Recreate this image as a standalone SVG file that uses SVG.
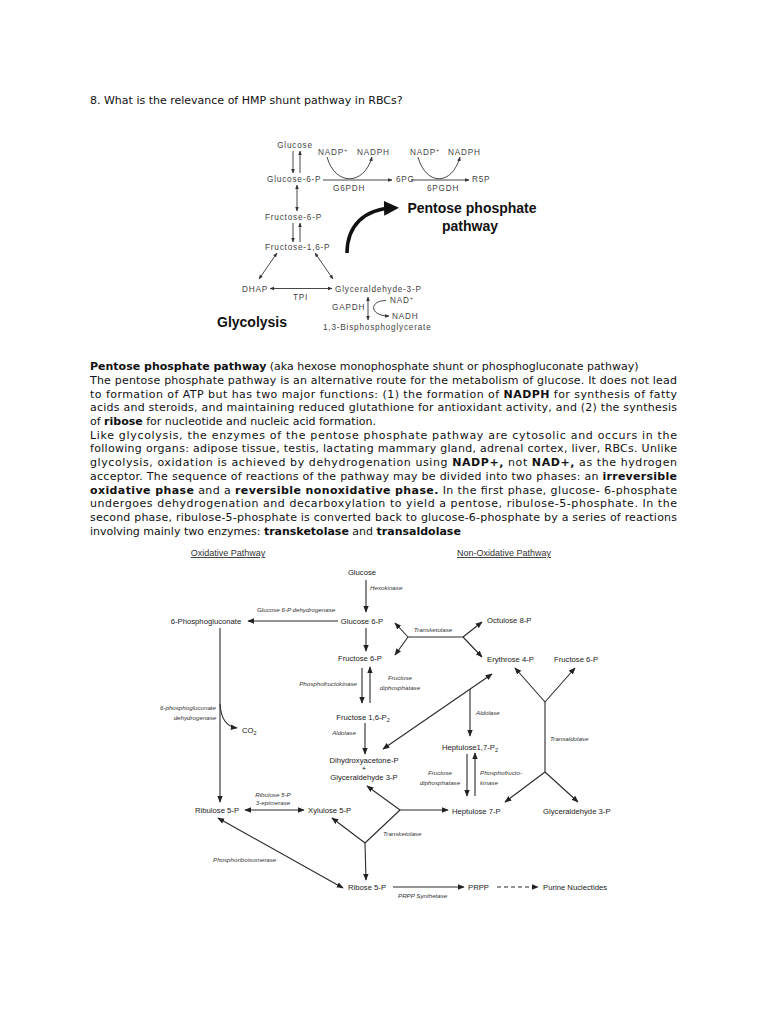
<svg xmlns="http://www.w3.org/2000/svg" width="768" height="1024" viewBox="0 0 768 1024">
<defs>
<style>
.p{font-family:"DejaVu Sans",sans-serif;font-size:11px;fill:#111}
.b{font-weight:bold}
.t{font-family:"Liberation Sans",Arial,sans-serif;font-size:8.2px;letter-spacing:0.8px;fill:#444}
.n{font-family:"Liberation Sans",Arial,sans-serif;font-size:7.7px;fill:#222}
.e{font-family:"Liberation Sans",Arial,sans-serif;font-size:6.2px;font-style:italic;fill:#333}
.h{font-family:"Liberation Sans",Arial,sans-serif;font-size:9px;fill:#333;text-decoration:underline}
.c{text-anchor:middle}
.l1{fill:none;stroke:#333;stroke-width:0.9}
.l2{fill:none;stroke:#2a2a2a;stroke-width:1.1}
</style>
<marker id="as" viewBox="0 0 10 10" refX="9" refY="5" markerWidth="4.5" markerHeight="4.5" markerUnits="userSpaceOnUse" orient="auto-start-reverse"><path d="M0,1 L10,5 L0,9 z" fill="#333"/></marker>
<marker id="ab" viewBox="0 0 10 10" refX="9" refY="5" markerWidth="7" markerHeight="7" markerUnits="userSpaceOnUse" orient="auto-start-reverse"><path d="M0,1 L10,5 L0,9 z" fill="#222"/></marker>
<marker id="ax" viewBox="0 0 10 10" refX="6" refY="5" markerWidth="15" markerHeight="15" markerUnits="userSpaceOnUse" orient="auto"><path d="M0,0 L10,5 L0,10 z" fill="#111"/></marker>
</defs>
<rect width="768" height="1024" fill="#fff"/>

<text class="p" x="90" y="104">8. What is the relevance of HMP shunt pathway in RBCs?</text>

<g id="glycolysis-figure">
<g id="top-labels">
<text class="t c" x="295" y="148">Glucose</text>
<text class="t" x="318" y="155">NADP<tspan font-size="5.5" dy="-3">+</tspan></text>
<text class="t" x="357" y="155">NADPH</text>
<text class="t" x="410" y="155">NADP<tspan font-size="5.5" dy="-3">+</tspan></text>
<text class="t" x="448" y="155">NADPH</text>
<text class="t" x="267" y="182">Glucose-6-P</text>
<text class="t" x="333" y="191">G6PDH</text>
<text class="t" x="396" y="182">6PG</text>
<text class="t" x="427" y="191">6PGDH</text>
<text class="t" x="472" y="182">R5P</text>
<text class="t" x="265" y="220">Fructose-6-P</text>
<text class="t" x="265" y="250">Fructose-1,6-P</text>
<text class="t" x="242" y="292">DHAP</text>
<text class="t" x="293" y="300">TPI</text>
<text class="t" x="335" y="292">Glyceraldehyde-3-P</text>
<text class="t" x="332" y="310">GAPDH</text>
<text class="t" x="390" y="303">NAD<tspan font-size="5.5" dy="-3">+</tspan></text>
<text class="t" x="392" y="319">NADH</text>
<text class="t" x="323" y="330">1,3-Bisphosphoglycerate</text>
<text x="217" y="327" font-family="Liberation Sans,Arial,sans-serif" font-size="14" font-weight="bold" fill="#111">Glycolysis</text>
<text x="472" y="213" text-anchor="middle" font-family="Liberation Sans,Arial,sans-serif" font-size="14" font-weight="bold" fill="#111">Pentose phosphate</text>
<text x="470" y="231" text-anchor="middle" font-family="Liberation Sans,Arial,sans-serif" font-size="14" font-weight="bold" fill="#111">pathway</text>
</g>
<g id="top-connectors">
<path class="l1" d="M293,151 L293,173" marker-end="url(#as)"/>
<path class="l1" d="M300,173 L300,151" marker-end="url(#as)"/>
<path class="l1" d="M297,185 L297,211" marker-start="url(#as)" marker-end="url(#as)"/>
<path class="l1" d="M293,223 L293,242" marker-end="url(#as)"/>
<path class="l1" d="M300,242 L300,223" marker-end="url(#as)"/>
<path class="l1" d="M277,253 L259,279" marker-start="url(#as)" marker-end="url(#as)"/>
<path class="l1" d="M315,253 L333,279" marker-start="url(#as)" marker-end="url(#as)"/>
<path class="l1" d="M270,288.5 L332,288.5" marker-start="url(#as)" marker-end="url(#as)"/>
<path class="l1" d="M323,180 L392,180" marker-end="url(#as)"/>
<path class="l1" d="M411,180 L469,180" marker-end="url(#as)"/>
<path class="l1" d="M327,157 C335,186 364,186 372,157" marker-end="url(#as)"/>
<path class="l1" d="M418,157 C426,186 452,186 460,157" marker-end="url(#as)"/>
<path class="l1" d="M368,297 L368,320" marker-start="url(#as)" marker-end="url(#as)"/>
<path class="l1" d="M386,300.5 C369,300.5 369,316 389,316" marker-end="url(#as)"/>
<path d="M347,253 C347,226 364,209 393,208" fill="none" stroke="#111" stroke-width="3.5" marker-end="url(#ax)"/>
</g>
</g>

<g id="paragraph">
<text class="p" x="90" y="370"><tspan class="b">Pentose phosphate pathway</tspan> (aka hexose monophosphate shunt or phosphogluconate pathway)</text>
<text class="p" x="90" y="383.7" textLength="587" lengthAdjust="spacing">The pentose phosphate pathway is an alternative route for the metabolism of glucose. It does not lead</text>
<text class="p" x="90" y="397.5" textLength="587" lengthAdjust="spacing">to formation of ATP but has two major functions: (1) the formation of <tspan class="b">NADPH</tspan> for synthesis of fatty</text>
<text class="p" x="90" y="411.2" textLength="587" lengthAdjust="spacing">acids and steroids, and maintaining reduced glutathione for antioxidant activity, and (2) the synthesis</text>
<text class="p" x="90" y="424.9">of <tspan class="b">ribose</tspan> for nucleotide and nucleic acid formation.</text>
<text class="p" x="90" y="438.7" textLength="587" lengthAdjust="spacing">Like glycolysis, the enzymes of the pentose phosphate pathway are cytosolic and occurs in the</text>
<text class="p" x="90" y="452.4" textLength="587" lengthAdjust="spacing">following organs: adipose tissue, testis, lactating mammary gland, adrenal cortex, liver, RBCs. Unlike</text>
<text class="p" x="90" y="466.1" textLength="587" lengthAdjust="spacing">glycolysis, oxidation is achieved by dehydrogenation using <tspan class="b">NADP+,</tspan> not <tspan class="b">NAD+,</tspan> as the hydrogen</text>
<text class="p" x="90" y="479.8" textLength="587" lengthAdjust="spacing">acceptor. The sequence of reactions of the pathway may be divided into two phases: an <tspan class="b">irreversible</tspan></text>
<text class="p" x="90" y="493.6" textLength="587" lengthAdjust="spacing"><tspan class="b">oxidative phase</tspan> and a <tspan class="b">reversible nonoxidative phase.</tspan> In the first phase, glucose- 6-phosphate</text>
<text class="p" x="90" y="507.3" textLength="587" lengthAdjust="spacing">undergoes dehydrogenation and decarboxylation to yield a pentose, ribulose-5-phosphate. In the</text>
<text class="p" x="90" y="521" textLength="587" lengthAdjust="spacing">second phase, ribulose-5-phosphate is converted back to glucose-6-phosphate by a series of reactions</text>
<text class="p" x="90" y="534.8">involving mainly two enzymes: <tspan class="b">transketolase</tspan> and <tspan class="b">transaldolase</tspan></text>
</g>

<g id="pathway-figure">
<g id="headers">
<text class="h c" x="228" y="556">Oxidative Pathway</text>
<text class="h c" x="504" y="556">Non-Oxidative Pathway</text>
</g>
<g id="nodes">
<g id="n-glucose"><text class="n c" x="362" y="575">Glucose</text></g>
<g id="n-g6p"><text class="n c" x="362" y="624">Glucose 6-P</text></g>
<g id="n-6pg"><text class="n c" x="206" y="624">6-Phosphogluconate</text></g>
<g id="n-f6p"><text class="n c" x="360" y="661">Fructose 6-P</text></g>
<g id="n-oct"><text class="n" x="487" y="623">Octulose 8-P</text></g>
<g id="n-ery"><text class="n" x="487" y="662">Erythrose 4-P</text></g>
<g id="n-f6p2"><text class="n" x="554" y="662">Fructose 6-P</text></g>
<g id="n-f16"><text class="n c" x="363" y="720">Fructose 1,6-P<tspan font-size="5.5" dy="2">2</tspan></text></g>
<g id="n-co2"><text class="n" x="242" y="733">CO<tspan font-size="5.5" dy="2">2</tspan></text></g>
<g id="n-dhap"><text class="n c" x="364" y="763">Dihydroxyacetone-P</text><text class="n c" x="364" y="770.5" font-size="5.5">+</text><text class="n c" x="364" y="779.5">Glyceraldehyde 3-P</text></g>
<g id="n-h17"><text class="n c" x="470" y="750">Heptulose1,7-P<tspan font-size="5.5" dy="2">2</tspan></text></g>
<g id="n-h7p"><text class="n" x="452" y="814">Heptulose 7-P</text></g>
<g id="n-g3p"><text class="n" x="543" y="814">Glyceraldehyde 3-P</text></g>
<g id="n-ru5p"><text class="n" x="195" y="813">Ribulose 5-P</text></g>
<g id="n-xu5p"><text class="n" x="308" y="813">Xylulose 5-P</text></g>
<g id="n-r5p"><text class="n" x="348" y="890">Ribose 5-P</text></g>
<g id="n-prpp"><text class="n" x="468" y="890">PRPP</text></g>
<g id="n-purine"><text class="n" x="543" y="890">Purine Nuclectides</text></g>
</g>
<g id="enzymes">
<text class="e" x="370" y="590">Hexokinase</text>
<text class="e" x="257" y="612">Glucose 6-P dehydrogenase</text>
<text class="e c" x="433" y="632">Transketolase</text>
<text class="e" x="357" y="686" text-anchor="end">Phosphofructokinase</text>
<text class="e c" x="400" y="680">Fructose</text>
<text class="e c" x="400" y="690">diphosphatase</text>
<text class="e c" x="188" y="710">6-phosphogluconate</text>
<text class="e c" x="195" y="720">dehydrogenase</text>
<text class="e c" x="344" y="735">Aldolase</text>
<text class="e" x="476" y="715">Aldolase</text>
<text class="e" x="550" y="741">Transaldolase</text>
<text class="e c" x="440" y="775">Fructose</text>
<text class="e c" x="440" y="785">diphosphatase</text>
<text class="e" x="480" y="775">Phosphofructo-</text>
<text class="e" x="480" y="785">kinase</text>
<text class="e c" x="273" y="797">Ribulose 5-P</text>
<text class="e c" x="273" y="805">3-epimerase</text>
<text class="e" x="383" y="836">Transketolase</text>
<text class="e" x="213" y="862">Phosphoriboisomerase</text>
<text class="e" x="398" y="898">PRPP Synthetase</text>
</g>
<g id="connectors">
<path class="l2" d="M366,580 L366,612" marker-end="url(#ab)"/>
<path class="l2" d="M338,621 L248,621" marker-end="url(#ab)"/>
<path class="l2" d="M366,628 L366,651" marker-end="url(#ab)"/>
<path class="l2" d="M408,637 L395,623" marker-end="url(#ab)"/>
<path class="l2" d="M408,637 L395,655" marker-end="url(#ab)"/>
<path class="l2" d="M408,637 L463,637"/>
<path class="l2" d="M463,637 L482,622" marker-end="url(#ab)"/>
<path class="l2" d="M463,637 L482,657" marker-end="url(#ab)"/>
<path class="l2" d="M220,628 L220,802" marker-end="url(#ab)"/>
<path class="l2" d="M220,704 C221,720 228,727 237,728" marker-end="url(#ab)"/>
<path class="l2" d="M362,668 L362,703" marker-end="url(#ab)"/>
<path class="l2" d="M370,703 L370,667" marker-end="url(#ab)"/>
<path class="l2" d="M365,723 L365,754" marker-end="url(#ab)"/>
<path class="l2" d="M383,749 L492,674" marker-start="url(#ab)" marker-end="url(#ab)"/>
<path class="l2" d="M470,689 L470,736" marker-end="url(#ab)"/>
<path class="l2" d="M467,754 L467,796" marker-end="url(#ab)"/>
<path class="l2" d="M475,796 L475,753" marker-end="url(#ab)"/>
<path class="l2" d="M545,702 L515,668" marker-end="url(#ab)"/>
<path class="l2" d="M545,702 L575,668" marker-end="url(#ab)"/>
<path class="l2" d="M545,702 L545,772"/>
<path class="l2" d="M545,772 L505,802" marker-end="url(#ab)"/>
<path class="l2" d="M545,772 L578,802" marker-end="url(#ab)"/>
<path class="l2" d="M400,810 L448,810" marker-end="url(#ab)"/>
<path class="l2" d="M400,810 L367,786" marker-end="url(#ab)"/>
<path class="l2" d="M400,810 L365,843"/>
<path class="l2" d="M365,843 L332,818" marker-end="url(#ab)"/>
<path class="l2" d="M365,843 L366,880" marker-end="url(#ab)"/>
<path class="l2" d="M245,810 L304,810" marker-start="url(#ab)" marker-end="url(#ab)"/>
<path class="l2" d="M218,818 L343,888" marker-start="url(#ab)" marker-end="url(#ab)"/>
<path class="l2" d="M393,887 L464,887" marker-end="url(#ab)"/>
<path class="l2" d="M497,887 L538,887" stroke-dasharray="4,3" marker-end="url(#ab)"/>
</g>
</g>
</svg>
